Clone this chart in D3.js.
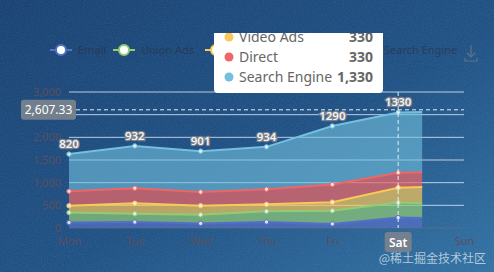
<!DOCTYPE html>
<html><head><meta charset="utf-8">
<script src="https://cdn.jsdelivr.net/npm/d3@7"></script>
<style>html,body{margin:0;padding:0;overflow:hidden;background:#1a4778}svg{display:block}</style>
</head><body>
<svg id="chart" width="494" height="272"></svg>
<script>
const days = ["Mon","Tue","Wed","Thu","Fri","Sat","Sun"];
const seriesNames = ["Email","Union Ads","Video Ads","Direct","Search Engine"];
const email = [120,132,101,134,90,230,210];
const unionAds = [220,182,191,234,290,330,310];
const videoAds = [150,232,201,154,190,330,410];
const direct = [320,332,301,334,390,330,320];
const searchEngine = [820,932,901,934,1290,1330,1320];
const yTicks = [0,500,1000,1500,2000,2500,3000];
const colors = ["#5470c6","#91cc75","#fac858","#ee6666","#73c0de"];
const pointerValue = 2607.33;
const pointerDay = "Sat";
const tooltipRows = [["Video Ads",330,"#fac858"],["Direct",330,"#ee6666"],["Search Engine",1330,"#73c0de"]];

const values = [email, unionAds, videoAds, direct, searchEngine];
const svg = d3.select("#chart");
const W = 494, H = 272;
const M = {left:69, right:30, top:92, bottom:44};
const FONT = "'Noto Sans', sans-serif";
const TT = {x:214, y:33, w:169, h:60};

// background
const defs = svg.append("defs");
const bg = defs.append("linearGradient").attr("id","bg").attr("x1","0").attr("y1","0").attr("x2","1").attr("y2","1");
bg.append("stop").attr("offset","0").attr("stop-color","#153f70");
bg.append("stop").attr("offset","0.55").attr("stop-color","#1c4e82");
bg.append("stop").attr("offset","1").attr("stop-color","#2f70a2");
const f = defs.append("filter").attr("id","noise").attr("x",0).attr("y",0).attr("width","100%").attr("height","100%");
f.append("feTurbulence").attr("type","fractalNoise").attr("baseFrequency","0.9").attr("numOctaves",2).attr("seed",3);
f.append("feColorMatrix").attr("type","matrix").attr("values","0 0 0 0 0.8  0 0 0 0 0.9  0 0 0 0 1  0 0 0 0.35 -0.05");
svg.append("rect").attr("width",W).attr("height",H).attr("fill","url(#bg)");
svg.append("rect").attr("width",W).attr("height",H).attr("filter","url(#noise)").attr("opacity",0.35);

const x = d3.scalePoint().domain(days).range([M.left, W - M.right]);
const y = d3.scaleLinear().domain([0,3000]).range([H - M.bottom, M.top]);
const py = y(pointerValue), px = x(pointerDay);

// grid lines
svg.append("g").selectAll("line").data(yTicks.filter(d=>d>0)).join("line")
  .attr("x1",M.left).attr("x2",W-M.right).attr("y1",d=>y(d)).attr("y2",d=>y(d))
  .attr("stroke","#d6e2f0").attr("stroke-opacity",0.85).attr("stroke-width",1);

// y axis labels (the one under the pointer label is hidden, as in the reference)
const yAxis = d3.axisLeft(y).tickValues(yTicks).tickSize(0).tickPadding(8).tickFormat(d3.format(","));
const ya = svg.append("g").attr("transform",`translate(${M.left},0)`).call(yAxis);
ya.select(".domain").remove();
ya.selectAll("text").attr("fill","#5a4f62").attr("font-size",11).attr("font-family",FONT);
ya.selectAll(".tick").filter(d=>Math.abs(y(d)-py)<12).remove();

// stacked data
const table = days.map((d,i)=>{const o={day:d}; seriesNames.forEach((s,k)=>o[s]=values[k][i]); return o;});
const stacked = d3.stack().keys(seriesNames)(table);

const clip = defs.append("clipPath").attr("id","anim");
clip.append("rect").attr("x",M.left-5).attr("y",0).attr("width",px-M.left+5+24).attr("height",H);

const area = d3.area().x(d=>x(d.data.day)).y0(d=>y(d[0])).y1(d=>y(d[1]));
const line = d3.line().x(d=>x(d.data.day)).y(d=>y(d[1]));
const g = svg.append("g").attr("clip-path","url(#anim)");
const areaOp = [0.72,0.7,0.7,0.72,0.6];
stacked.forEach((s,k)=>{
  g.append("path").datum(s).attr("d",area).attr("fill",colors[k]).attr("fill-opacity",areaOp[k]);
});
stacked.forEach((s,k)=>{
  g.append("path").datum(s).attr("d",line).attr("fill","none").attr("stroke",colors[k]).attr("stroke-width",2);
});
stacked.forEach((s,k)=>{
  g.append("g").selectAll("circle").data(s).join("circle")
    .attr("cx",d=>x(d.data.day)).attr("cy",d=>y(d[1])).attr("r",2.2)
    .attr("fill","#f2f4fa").attr("fill-opacity",0.85).attr("stroke",colors[k]).attr("stroke-width",1);
});

// x axis
svg.append("line").attr("x1",M.left).attr("x2",W-M.right).attr("y1",y(0)).attr("y2",y(0)).attr("stroke","#6E7079").attr("stroke-opacity",0.6);
const xAxis = d3.axisBottom(x).tickSize(0).tickPadding(9);
const xa = svg.append("g").attr("transform",`translate(0,${y(0)})`).call(xAxis);
xa.select(".domain").remove();
xa.selectAll("text").attr("fill","#5a4f62").attr("font-size",11).attr("font-family",FONT);
xa.selectAll(".tick").filter(d=>d===pointerDay).remove();

// top labels (last series)
const topPts = stacked[stacked.length-1].filter(d=>x(d.data.day) <= px);
svg.append("g").selectAll("text").data(topPts).join("text")
  .attr("x",d=>x(d.data.day)).attr("y",d=>y(d[1])-6).attr("text-anchor","middle")
  .attr("font-size",11.5).attr("font-weight",600).attr("font-family",FONT)
  .attr("fill","#f4f4f4").attr("stroke","#7a808a").attr("stroke-width",2.5).attr("paint-order","stroke")
  .text((d,i)=>searchEngine[i]);

// axis pointer
svg.append("line").attr("x1",M.left).attr("x2",W-M.right).attr("y1",py).attr("y2",py)
  .attr("stroke","#e6edf5").attr("stroke-dasharray","4,3").attr("stroke-width",1);
svg.append("line").attr("x1",px).attr("x2",px).attr("y1",M.top).attr("y2",y(0))
  .attr("stroke","#e6edf5").attr("stroke-dasharray","4,3").attr("stroke-width",1);
const pl = svg.append("g");
pl.append("rect").attr("x",21).attr("y",py-10).attr("width",55).attr("height",20).attr("rx",3).attr("fill","#78828d").attr("opacity",0.95);
pl.append("text").attr("x",48.5).attr("y",py+4.5).attr("text-anchor","middle").attr("fill","#fff").attr("font-size",12).attr("font-family",FONT).text(d3.format(",.2f")(pointerValue));
pl.append("rect").attr("x",px-13.5).attr("y",y(0)+4).attr("width",27).attr("height",20).attr("rx",3).attr("fill","#78828d").attr("opacity",0.95);
pl.append("text").attr("x",px).attr("y",y(0)+18.5).attr("text-anchor","middle").attr("fill","#fff").attr("font-size",12).attr("font-weight",600).attr("font-family",FONT).text(pointerDay);

// legend (items under the tooltip are only partly visible)
const legendX = [61, 124, 216, 292, 367];
const lg = svg.append("g");
seriesNames.forEach((s,k)=>{
  const cx = legendX[k], cy = 50;
  lg.append("line").attr("x1",cx-11).attr("x2",cx+11).attr("y1",cy).attr("y2",cy).attr("stroke",colors[k]).attr("stroke-width",2);
  lg.append("circle").attr("cx",cx).attr("cy",cy).attr("r",5).attr("fill","#fff").attr("stroke",colors[k]).attr("stroke-width",2);
  const tx = cx + 17;
  if (tx > TT.x + TT.w || tx + 40 < TT.x)
    lg.append("text").attr("x",tx).attr("y",cy+4).attr("fill","#2a3344").attr("fill-opacity",0.7).attr("font-size",11).attr("font-family",FONT).text(s);
});
// toolbox icon
const tb = svg.append("g").attr("stroke","#6a7a8a").attr("stroke-opacity",0.8).attr("fill","none").attr("stroke-width",1.2);
tb.append("path").attr("d","M465,58 L465,61 L477,61 L477,58 M471,45 L471,57 M467,53 L471,57 L475,53");

// tooltip
const tclip = defs.append("clipPath").attr("id","tclip");
tclip.append("rect").attr("x",TT.x).attr("y",TT.y).attr("width",TT.w+1).attr("height",TT.h);
const tt = svg.append("g").attr("clip-path","url(#tclip)");
tt.append("rect").attr("x",TT.x).attr("y",10).attr("width",TT.w).attr("height",TT.y+TT.h-10).attr("rx",4).attr("fill","#fff");
tooltipRows.forEach((r,i)=>{
  const cy = 37 + i*20;
  tt.append("circle").attr("cx",229).attr("cy",cy).attr("r",4.5).attr("fill",r[2]);
  tt.append("text").attr("x",239).attr("y",cy+5).attr("fill","#666").attr("font-size",14).attr("font-family",FONT).text(r[0]);
  tt.append("text").attr("x",373).attr("y",cy+5).attr("text-anchor","end").attr("fill","#666").attr("font-size",14).attr("font-weight",700).attr("font-family",FONT).text(d3.format(",")(r[1]));
});

// watermark
svg.append("text").attr("x",W-8).attr("y",263).attr("text-anchor","end").attr("fill","#dfe6ee").attr("fill-opacity",0.75)
  .attr("font-size",12).attr("font-family","'Noto Sans CJK SC', sans-serif").text("@稀土掘金技术社区");
</script>
</body></html>
